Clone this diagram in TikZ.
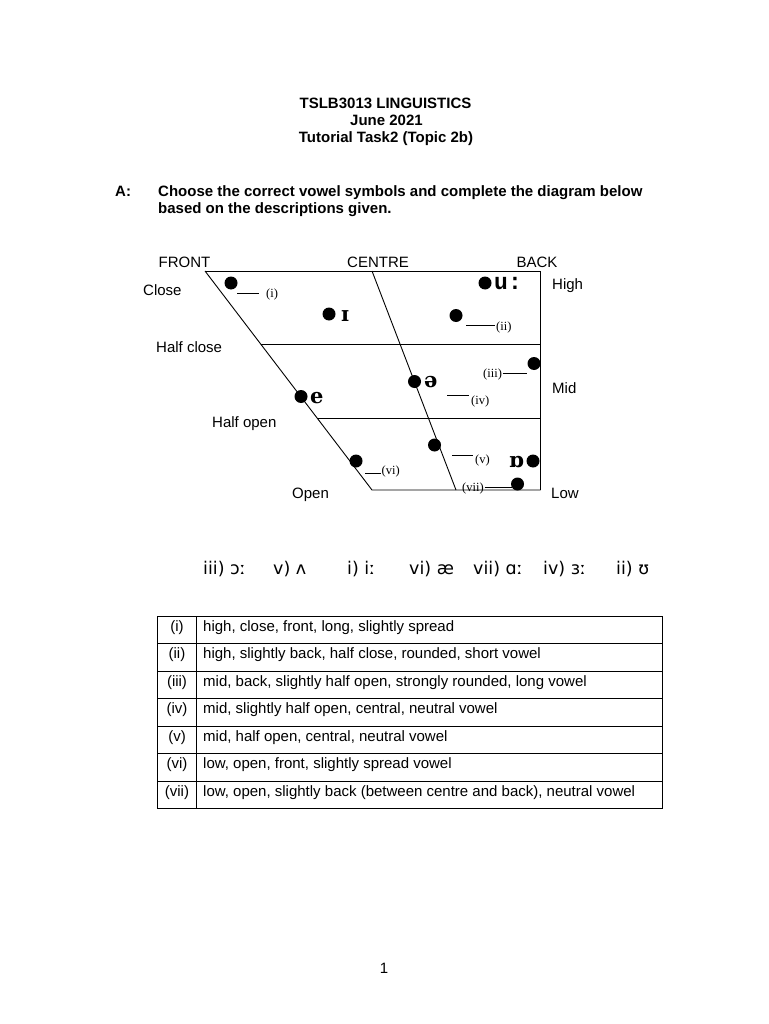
\documentclass[tikz,border=0pt]{standalone}
\usepackage{fontspec}
\setmainfont{Liberation Sans}
\newfontfamily\serf{Liberation Serif}
\newfontfamily\ipaserif{DejaVu Serif}
\newfontfamily\ipasans{DejaVu Sans}
\newfontfamily\monof{Liberation Mono}
\begin{document}
\begin{tikzpicture}[x=1pt,y=-1pt,
  txt/.style={inner sep=0pt,anchor=base west,font=\fontsize{15}{18}\selectfont},
  ctxt/.style={inner sep=0pt,anchor=base,font=\fontsize{15}{18}\selectfont},
  btxt/.style={inner sep=0pt,anchor=base,font=\fontsize{15}{18}\selectfont\bfseries},
  lab/.style={inner sep=0pt,anchor=base west,font=\fontsize{12.5}{14}\selectfont\serf},
  ipab/.style={inner sep=0pt,anchor=base west,font=\fontsize{21}{23}\selectfont\ipaserif\bfseries},
  sym/.style={inner sep=0pt,anchor=base west,font=\fontsize{17.5}{20}\selectfont\ipasans},
  dot/.style={circle,fill=black,inner sep=0pt,minimum size=13pt},
  chart/.style={line width=0.9pt,black},
  lead/.style={line width=0.8pt,black},
  tab/.style={line width=0.8pt,black}]
\useasboundingbox[fill=white] (0,0) rectangle (768,1024);

% Title
\node[btxt] (t1) at (385.5,108.5) {TSLB3013 LINGUISTICS};
\node[btxt] (t2) at (386.5,125.5) {June 2021};
\node[btxt] (t3) at (386,142.5) {Tutorial Task2 (Topic 2b)};
\node[txt,font=\fontsize{15}{18}\selectfont\bfseries] (qa) at (115,196.5) {A:};
\node[txt,font=\fontsize{15}{18}\selectfont\bfseries] (q1) at (158,196.5) {Choose the correct vowel symbols and complete the diagram below};
\node[txt,font=\fontsize{15}{18}\selectfont\bfseries] (q2) at (158,214) {based on the descriptions given.};

% Chart frame
\coordinate (TL) at (205,271);
\coordinate (TC) at (372,271);
\coordinate (TR) at (540.5,271);
\coordinate (BL) at (372,490);
\coordinate (BC) at (456,490);
\coordinate (BR) at (540.5,490);
\coordinate (HCL) at (260.7,344);
\coordinate (HCR) at (540.5,344);
\coordinate (HOL) at (317.1,418);
\coordinate (HOR) at (540.5,418);
\coordinate (RM1) at (540.5,373);
\coordinate (RM2) at (540.5,452);
\draw[chart] (TL) -- (TR);
\draw[chart] (TL) -- (BL) -- (BR);
\draw[chart] (TC) -- (BC);
\draw[chart] (HCL) -- (HCR);
\draw[chart] (HOL) -- (HOR);
\draw[chart] (TR) -- (BR);
\draw[line width=1.8pt] (TR) -- (RM1);
\draw[line width=1.6pt] (RM2) -- (BR);

% Chart labels
\node[ctxt] (front) at (184.5,267) {FRONT};
\node[ctxt] (centre) at (378,267) {CENTRE};
\node[ctxt] (back) at (537,267) {BACK};
\node[txt] (close) at (143,295) {Close};
\node[txt] (high) at (552,289) {High};
\node[txt] (halfclose) at (156,352.5) {Half close};
\node[txt] (mid) at (552,393) {Mid};
\node[txt] (halfopen) at (212,427.5) {Half open};
\node[txt] (open) at (292,498) {Open};
\node[txt] (low) at (551,498) {Low};

% Dots
\node[dot] (d1) at (231,283) {};
\node[dot] (du) at (485,283) {};
\node[dot] (dI) at (329,314) {};
\node[dot] (d2) at (456,315.5) {};
\node[dot] (d3) at (534,363.5) {};
\node[dot] (dschwa) at (414.5,381.5) {};
\node[dot] (de) at (301,396.5) {};
\node[dot] (d5) at (434.5,445) {};
\node[dot] (dturn) at (533,461) {};
\node[dot] (d6) at (356,461) {};
\node[dot] (d7) at (517.5,484) {};

% IPA symbols in chart
\node[inner sep=0pt,anchor=base west,font=\fontsize{23}{25}\selectfont\monof\bfseries] (su) at (494,289) {u:};
\node[ipab] (sI) at (341,321.5) {ɪ};
\node[ipab] (sschwa) at (424,387.5) {ə};
\node[ipab] (se) at (310,403) {e};
\node[ipab] (sturn) at (509,467) {ɒ};

% Numbered blanks
\coordinate (b1a) at (237,293); \coordinate (b1b) at (259,293);
\draw[lead] (b1a) -- (b1b);
\node[lab] (l1) at (266,297) {(i)};
\coordinate (b2a) at (466,325.5); \coordinate (b2b) at (495,325.5);
\draw[lead] (b2a) -- (b2b);
\node[lab] (l2) at (496,330.5) {(ii)};
\node[lab] (l3) at (483,377) {(iii)};
\coordinate (b3a) at (502.5,373.5); \coordinate (b3b) at (527,373.5);
\draw[lead] (b3a) -- (b3b);
\coordinate (b4a) at (447,395); \coordinate (b4b) at (469,395);
\draw[lead] (b4a) -- (b4b);
\node[lab] (l4) at (471,404) {(iv)};
\coordinate (b5a) at (452,455); \coordinate (b5b) at (473,455);
\draw[lead] (b5a) -- (b5b);
\node[lab] (l5) at (475,463) {(v)};
\coordinate (b6a) at (365,473); \coordinate (b6b) at (381,473);
\draw[lead] (b6a) -- (b6b);
\node[lab] (l6) at (381.5,474.5) {(vi)};
\node[lab] (l7) at (462,491) {(vii)};
\coordinate (b7a) at (484.5,487.5); \coordinate (b7b) at (512,487.5);
\draw[lead] (b7a) -- (b7b);

% Symbol choices
\node[sym] (c3) at (203,574) {iii) ɔː};
\node[sym] (c5) at (273,574) {v) ʌ};
\node[sym] (c1) at (347,574) {i) iː};
\node[sym] (c6) at (409,574) {vi) æ};
\node[sym] (c7) at (473,574) {vii) ɑː};
\node[sym] (c4) at (543,574) {iv) ɜː};
\node[sym] (c2) at (616,574) {ii) ʊ};

% Table
\coordinate (TA) at (157.5,616);
\coordinate (TB) at (662,808.5);
\draw[tab] (TA) rectangle (TB);
\coordinate (DV1) at (196,616); \coordinate (DV2) at (196,808.5);
\draw[tab] (DV1) -- (DV2);
\foreach \k in {1,...,6}{
  \draw[tab] (157.5,616+27.5*\k) -- (662,616+27.5*\k);
}
\foreach \k/\n/\t in {0/i/{high, close, front, long, slightly spread},
  1/ii/{high, slightly back, half close, rounded, short vowel},
  2/iii/{mid, back, slightly half open, strongly rounded, long vowel},
  3/iv/{mid, slightly half open, central, neutral vowel},
  4/v/{mid, half open, central, neutral vowel},
  5/vi/{low, open, front, slightly spread vowel},
  6/vii/{low, open, slightly back (between centre and back), neutral vowel}}{
  \node[ctxt] (n\n) at (177,631+27.5*\k) {(\n)};
  \node[txt] (r\n) at (203,631+27.5*\k) {\t};
}

% Page number
\node[ctxt] (pg) at (384,973) {1};
\end{tikzpicture}
\end{document}
